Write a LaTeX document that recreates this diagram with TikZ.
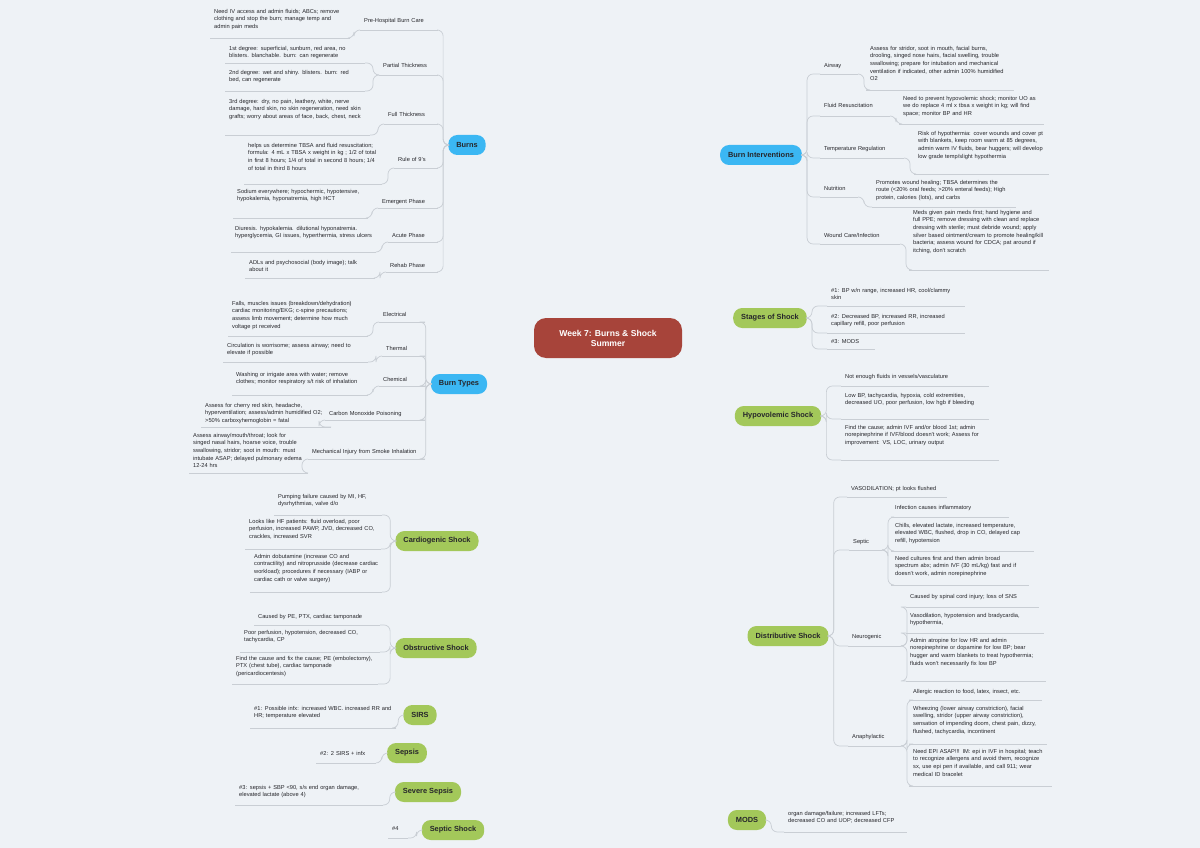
\documentclass[tikz,border=0pt]{standalone}
\usepackage{fontspec}
\setmainfont{Liberation Sans}
\usetikzlibrary{backgrounds}
\hyphenpenalty=10000
\exhyphenpenalty=10000
\definecolor{bg}{HTML}{EEF2F6}
\definecolor{bluep}{HTML}{3BB7F3}
\definecolor{greenp}{HTML}{A3C85A}
\definecolor{redp}{HTML}{A7443A}
\definecolor{lnc}{HTML}{C9CED4}
\definecolor{txt}{HTML}{26262B}
\tikzset{
 leaf/.style={anchor=north west,inner sep=0pt,align=left,text=txt,font=\fontsize{5.7}{7.6}\selectfont},
 ul/.style={draw=lnc,line width=0.7pt},
 con/.style={draw=lnc,line width=0.7pt,rounded corners=6pt},
 main/.style={draw=lnc,line width=0.8pt},
 pill/.style={rounded corners=9pt,minimum height=20pt,inner xsep=8pt,text=txt,font=\fontsize{7.4}{8}\selectfont\bfseries},
 bp/.style={pill,fill=bluep},
 gp/.style={pill,fill=greenp},
}
\newcommand\lf[6]{%
 \node[leaf,text width=#4pt] (#1) at (#2,#3) {#6};
 \coordinate (#1L) at ({#2-4},#5); \coordinate (#1R) at ({#2+#4+4},#5);
 \draw[ul] (#1L) -- (#1R);}
\newcommand\myconL[2]{\draw[con] (#1L) -- ++(-6,0) |- (#2R);}
\newcommand\myconR[2]{\draw[con] (#1R) -- ++(6,0) |- (#2L);}
\newcommand\mypilL[2]{\draw[con] (#1.west) -- ++(-5,0) |- (#2R);}
\newcommand\mypilR[2]{\draw[con] (#1.east) -- ++(5,0) |- (#2L);}
\begin{document}
\begin{tikzpicture}[x=1pt,y=-1pt]
\fill[bg] (0,0) rectangle (1200,848);
\useasboundingbox (0,0) rectangle (1200,848);
\node[rounded corners=12pt,fill=redp,text=white,minimum width=148pt,minimum height=40pt,align=center,font=\fontsize{8.6}{10}\selectfont\bfseries] (c) at (608,338) {Week 7: Burns \& Shock\\Summer};
% pills
\node[bp] (burns) at (467,145) {Burns};
\node[bp] (types) at (459,384) {Burn Types};
\node[bp] (inter) at (761,155) {Burn Interventions};
\node[gp] (stages) at (770,318) {Stages of Shock};
\node[gp] (hypo) at (778,416) {Hypovolemic Shock};
\node[gp] (dist) at (788,636) {Distributive Shock};
\node[gp] (mods) at (747,820) {MODS};
\node[gp] (cardio) at (437,541) {Cardiogenic Shock};
\node[gp] (obst) at (436,648) {Obstructive Shock};
\node[gp] (sirs) at (420,715) {SIRS};
\node[gp] (sepsis) at (407,753) {Sepsis};
\node[gp] (severe) at (428,792) {Severe Sepsis};
\node[gp] (septic) at (453,830) {Septic Shock};
\begin{pgfonlayer}{background}
\draw[main] (c.center) to[out=95,in=0] (burns.east);
\draw[main] (c.center) to[out=180,in=0] (types.east);
\draw[main] (c.center) to[out=85,in=180] (inter.west);
\draw[main] (c.center) to[out=0,in=180] (stages.west);
\draw[main] (c.center) to[out=-80,in=180] (hypo.west);
\draw[main] (c.center) to[out=-85,in=180] (dist.west);
\draw[main] (c.center) to[out=-88,in=180] (mods.west);
\draw[main] (c.center) to[out=-100,in=0] (cardio.east);
\draw[main] (c.center) to[out=-95,in=0] (obst.east);
\draw[main] (c.center) to[out=-93,in=0] (sirs.east);
\draw[main] (c.center) to[out=-92,in=0] (sepsis.east);
\draw[main] (c.center) to[out=-91,in=0] (severe.east);
\draw[main] (c.center) to[out=-90,in=0] (septic.east);
\end{pgfonlayer}
% Burns
\lf{b1}{364}{18}{70}{30}{Pre-Hospital Burn Care}
\lf{b2}{383}{63}{51}{75}{Partial Thickness}
\lf{b3}{388}{112}{46}{124}{Full Thickness}
\lf{b4}{398}{157}{36}{168}{Rule of 9's}
\lf{b5}{382}{199}{52}{208}{Emergent Phase}
\lf{b6}{392}{233}{42}{242}{Acute Phase}
\lf{b7}{390}{263}{44}{272}{Rehab Phase}
\foreach \n in {b1,b2,b3,b4,b5,b6,b7}{\mypilL{burns}{\n}}
\lf{b1a}{214}{9}{132}{38}{Need IV access and admin fluids; ABCs; remove clothing and stop the burn; manage temp and admin pain meds}
\lf{b2a}{229}{46}{132}{63}{1st degree: superficial, sunburn, red area, no blisters. blanchable. burn: can regenerate}
\lf{b2b}{229}{70}{132}{91}{2nd degree: wet and shiny. blisters. burn: red bed, can regenerate}
\lf{b3a}{229}{99}{137}{135}{3rd degree: dry, no pain, leathery, white, nerve damage, hard skin, no skin regeneration, need skin grafts; worry about areas of face, back, chest, neck}
\lf{b4a}{248}{143}{130}{184}{helps us determine TBSA and fluid resuscitation; formula: 4 mL x TBSA x weight in kg ; 1/2 of total in first 8 hours; 1/4 of total in second 8 hours; 1/4 of total in third 8 hours}
\lf{b5a}{237}{189}{127}{218}{Sodium everywhere; hypochermic, hypotensive, hypokalemia, hyponatremia, high HCT}
\lf{b6a}{235}{226}{137}{252}{Diuresis. hypokalemia. dilutional hyponatremia. hyperglycemia, GI issues, hyperthermia, stress ulcers}
\lf{b7a}{249}{260}{122}{278}{ADLs and psychosocial (body image); talk about it}
\myconL{b1}{b1a}\myconL{b2}{b2a}\myconL{b2}{b2b}\myconL{b3}{b3a}\myconL{b4}{b4a}\myconL{b5}{b5a}\myconL{b6}{b6a}\myconL{b7}{b7a}
% Burn types
\lf{t1}{383}{312}{38}{322}{Electrical}
\lf{t2}{386}{346}{35}{356}{Thermal}
\lf{t3}{383}{377}{38}{386}{Chemical}
\lf{t4}{329}{411}{92}{420}{Carbon Monoxide Poisoning}
\lf{t5}{312}{449}{109}{459}{Mechanical Injury from Smoke Inhalation}
\foreach \n in {t1,t2,t3,t4,t5}{\mypilL{types}{\n}}
\lf{t1a}{232}{301}{132}{336}{Falls, muscles issues (breakdown/dehydration) cardiac monitoring/EKG; c-spine precautions; assess limb movement; determine how much voltage pt received}
\lf{t2a}{227}{343}{137}{362}{Circulation is worrisome; assess airway; need to elevate if possible}
\lf{t3a}{236}{372}{128}{395}{Washing or irrigate area with water; remove clothes; monitor respiratory s/t risk of inhalation}
\lf{t4a}{205}{403}{122}{427}{Assess for cherry red skin, headache, hyperventilation; assess/admin humidified O2; >50\% carboxyhemoglobin = fatal}
\lf{t5a}{193}{433}{111}{473}{Assess airway/mouth/throat; look for singed nasal hairs, hoarse voice, trouble swallowing, stridor; soot in mouth: must intubate ASAP; delayed pulmonary edema 12-24 hrs}
\myconL{t1}{t1a}\myconL{t2}{t2a}\myconL{t3}{t3a}\myconL{t4}{t4a}\myconL{t5}{t5a}
% Cardiogenic
\lf{c1}{278}{494}{100}{515}{Pumping failure caused by MI, HF, dysrhythmias, valve d/o}
\lf{c2}{249}{519}{128}{549}{Looks like HF patients: fluid overload, poor perfusion, increased PAWP, JVD, decreased CO, crackles, increased SVR}
\lf{c3}{254}{554}{124}{592}{Admin dobutamine (increase CO and contractility) and nitroprusside (decrease cardiac workload); procedures if necessary (IABP or cardiac cath or valve surgery)}
\foreach \n in {c1,c2,c3}{\mypilL{cardio}{\n}}
\lf{o1}{258}{614}{118}{625}{Caused by PE, PTX, cardiac tamponade}
\lf{o2}{244}{630}{132}{652}{Poor perfusion, hypotension, decreased CO, tachycardia, CP}
\lf{o3}{236}{656}{138}{684}{Find the cause and fix the cause; PE (embolectomy), PTX (chest tube), cardiac tamponade (pericardiocentesis)}
\foreach \n in {o1,o2,o3}{\mypilL{obst}{\n}}
\lf{s1}{254}{706}{138}{728}{\#1: Possible infx: increased WBC. increased RR and HR; temperature elevated}
\mypilL{sirs}{s1}
\lf{s2}{320}{751}{52}{763}{\#2: 2 SIRS + infx}
\mypilL{sepsis}{s2}
\lf{s3}{239}{785}{140}{805}{\#3: sepsis + SBP <90, s/s end organ damage, elevated lactate (above 4)}
\mypilL{severe}{s3}
\lf{s4}{392}{826}{12}{838}{\#4}
\mypilL{septic}{s4}
% Interventions
\lf{i1}{824}{63}{30}{74}{Airway}
\lf{i2}{824}{103}{62}{116}{Fluid Resuscitation}
\lf{i3}{824}{146}{76}{158}{Temperature Regulation}
\lf{i4}{824}{186}{30}{197}{Nutrition}
\lf{i5}{824}{233}{72}{244}{Wound Care/Infection}
\foreach \n in {i1,i2,i3,i4,i5}{\mypilR{inter}{\n}}
\lf{i1a}{870}{46}{140}{90}{Assess for stridor, soot in mouth, facial burns, drooling, singed nose hairs, facial swelling, trouble swallowing; prepare for intubation and mechanical ventilation if indicated, other admin 100\% humidified O2}
\lf{i2a}{903}{96}{137}{124}{Need to prevent hypovolemic shock; monitor UO as we do replace 4 ml x tbsa x weight in kg; will find space; monitor BP and HR}
\lf{i3a}{918}{131}{127}{174}{Risk of hypothermia: cover wounds and cover pt with blankets, keep room warm at 85 degrees, admin warm IV fluids, bear huggers; will develop low grade temp/slight hypothermia}
\lf{i4a}{876}{180}{136}{207}{Promotes wound healing; TBSA determines the route (<20\% oral feeds; >20\% enteral feeds); High protein, calories (lots), and carbs}
\lf{i5a}{913}{210}{132}{270}{Meds given pain meds first; hand hygiene and full PPE; remove dressing with clean and replace dressing with sterile; must debride wound; apply silver based ointment/cream to promote healing/kill bacteria; assess wound for CDCA; pat around if itching, don't scratch}
\myconR{i1}{i1a}\myconR{i2}{i2a}\myconR{i3}{i3a}\myconR{i4}{i4a}\myconR{i5}{i5a}
% Stages
\lf{st1}{831}{288}{130}{306}{\#1: BP w/n range, increased HR, cool/clammy skin}
\lf{st2}{831}{314}{130}{333}{\#2: Decreased BP, increased RR, increased capillary refill, poor perfusion}
\lf{st3}{831}{339}{40}{349}{\#3: MODS}
\foreach \n in {st1,st2,st3}{\mypilR{stages}{\n}}
% Hypovolemic
\lf{h1}{845}{374}{140}{386}{Not enough fluids in vessels/vasculature}
\lf{h2}{845}{393}{140}{419}{Low BP, tachycardia, hypoxia, cold extremities, decreased UO, poor perfusion, low hgb if bleeding}
\lf{h3}{845}{425}{150}{460}{Find the cause; admin IVF and/or blood 1st; admin norepinephrine if IVF/blood doesn't work; Assess for improvement: VS, LOC, urinary output}
\foreach \n in {h1,h2,h3}{\mypilR{hypo}{\n}}
% Distributive
\lf{d1}{851}{486}{92}{497}{VASODILATION; pt looks flushed}
\lf{dS}{853}{539}{25}{550}{Septic}
\lf{dN}{852}{634}{45}{646}{Neurogenic}
\lf{dA}{852}{734}{45}{746}{Anaphylactic}
\foreach \n in {d1,dS,dN,dA}{\mypilR{dist}{\n}}
\lf{ds1}{895}{505}{110}{517}{Infection causes inflammatory}
\lf{ds2}{895}{523}{135}{551}{Chills, elevated lactate, increased temperature, elevated WBC, flushed, drop in CO, delayed cap refill, hypotension}
\lf{ds3}{895}{556}{130}{585}{Need cultures first and then admin broad spectrum abx; admin IVF (30 mL/kg) fast and if doesn't work, admin norepinephrine}
\myconR{dS}{ds1}\myconR{dS}{ds2}\myconR{dS}{ds3}
\lf{dn1}{910}{594}{125}{607}{Caused by spinal cord injury; loss of SNS}
\lf{dn2}{910}{613}{130}{633}{Vasodilation, hypotension and bradycardia, hypothermia,}
\lf{dn3}{910}{638}{132}{681}{Admin atropine for low HR and admin norepinephrine or dopamine for low BP; bear hugger and warm blankets to treat hypothermia; fluids won't necessarily fix low BP}
\myconR{dN}{dn1}\myconR{dN}{dn2}\myconR{dN}{dn3}
\lf{da1}{913}{689}{125}{700}{Allergic reaction to food, latex, insect, etc.}
\lf{da2}{913}{706}{130}{744}{Wheezing (lower airway constriction), facial swelling, stridor (upper airway constriction), sensation of impending doom, chest pain, dizzy, flushed, tachycardia, incontinent}
\lf{da3}{913}{749}{135}{786}{Need EPI ASAP!!! IM: epi in IVF in hospital; teach to recognize allergens and avoid them, recognize sx, use epi pen if available, and call 911; wear medical ID bracelet}
\myconR{dA}{da1}\myconR{dA}{da2}\myconR{dA}{da3}
\lf{m1}{788}{811}{115}{832}{organ damage/failure; increased LFTs; decreased CO and UOP; decreased CFP}
\mypilR{mods}{m1}
\end{tikzpicture}
\end{document}
